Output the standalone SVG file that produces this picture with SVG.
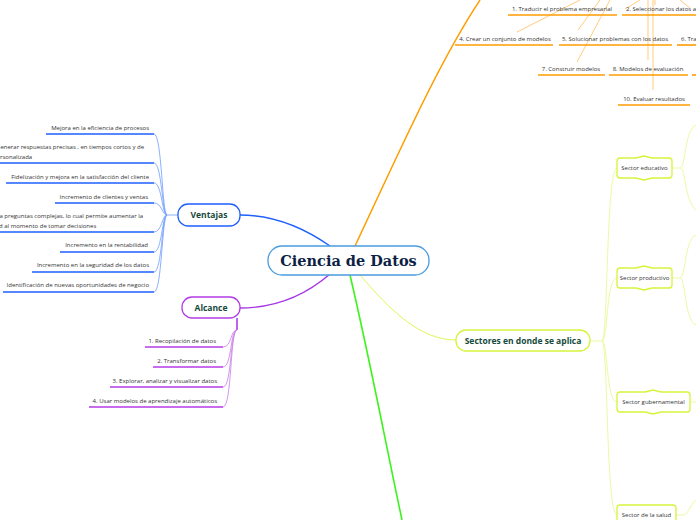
<svg xmlns="http://www.w3.org/2000/svg" width="696" height="520" viewBox="0 0 696 520">
<style>
text{font-family:"Open Sans","Liberation Sans",sans-serif;fill:#333;font-size:6px}
.r{text-anchor:end}.m{text-anchor:middle}
.b{font-weight:bold;fill:#154a3a;font-size:8.5px}
.ub{stroke:#1f5fff;stroke-width:1.6;fill:none}
.lb{stroke:#6d9cff;stroke-width:0.8;fill:none}
.up{stroke:#b33be6;stroke-width:1.6;fill:none}
.lp{stroke:#c87be8;stroke-width:0.8;fill:none}
.uo{stroke:#ff9c00;stroke-width:1.6;fill:none}
.lo{stroke:#ffb64a;stroke-width:0.7;fill:none}
.ly{stroke:#e6f88a;stroke-width:0.8;fill:none}
.ny{fill:#fff;stroke:#d4f53c;stroke-width:1.3}
</style>
<g id="connectors">
<path d="M330 246 C300 225 270 215 240 215" stroke="#1f5fff" stroke-width="1.4" fill="none"/>
<path d="M330 274 C300 300 270 308 240 308" stroke="#a637e6" stroke-width="1.4" fill="none"/>
<path d="M355 246 C400 150 440 60 480 0" stroke="#ff9c00" stroke-width="1.4" fill="none"/>
<path d="M350 275 C370 360 385 440 402 520" stroke="#3cf31c" stroke-width="1.6" fill="none"/>
<path d="M360 275 C390 310 420 340 456 340" stroke="#e2f654" stroke-width="1" fill="none"/>
<g class="lb">
<path d="M178 215 H167 C162 215 162 134 154 134"/><path d="M167 215 C162 215 162 163 154 163"/>
<path d="M167 215 C162 215 162 183 154 183"/><path d="M167 215 C162 215 162 203 154 203"/>
<path d="M167 215 C162 215 162 232 154 232"/><path d="M167 215 C162 215 162 252 154 252"/>
<path d="M167 215 C162 215 162 272 154 272"/><path d="M167 215 C162 215 162 292 154 292"/>
</g>
<path d="M237 318 V330" stroke="#b33be6" stroke-width="1.6"/>
<g class="lp">
<path d="M237 330 C230 330 232 347 223 347"/><path d="M237 330 C230 330 232 367 223 367"/>
<path d="M237 330 C230 330 232 387 223 387"/><path d="M237 330 C230 330 232 407 223 407"/>
</g>
<g class="lo">
<path d="M580 0 L517 32"/><path d="M600 0 L578 30"/><path d="M610 0 L577 62"/>
<path d="M648 0 V60"/><path d="M653 0 V90"/><path d="M640 0 L625 9"/><path d="M655 0 V5"/><path d="M680 0 L690 8"/>
</g>
<g class="ly">
<path d="M590 341 H602 C608 341 606 168 617 168"/><path d="M602 341 C608 341 606 278 617 278"/>
<path d="M602 341 C608 341 606 402 617 402"/><path d="M602 341 C608 341 606 515 617 515"/>
<path d="M672 168 H680 C686 168 684 130 696 125"/><path d="M680 168 C686 168 684 200 696 210"/>
<path d="M672 278 H680 C686 278 684 240 696 235"/><path d="M680 278 C686 278 684 320 696 325"/>
<path d="M690 402 H696"/><path d="M676 515 H683 C688 515 690 505 696 500"/>
</g>
</g>
<g id="center">
<rect x="268" y="246" width="161" height="29" rx="14" fill="#fff" stroke="#4a9be0" stroke-width="1.3"/>
<text x="348.5" y="266" class="m" style="font-family:'DejaVu Serif',serif;font-weight:bold;font-size:14.5px;fill:#0d1f45">Ciencia de Datos</text>
</g>
<g id="ventajas">
<rect x="178" y="204" width="62" height="22" rx="10" fill="#fff" stroke="#1f5fff" stroke-width="1.3"/>
<text x="209" y="218" class="m b">Ventajas</text>
<text x="149" y="130" class="r">Mejora en la eficiencia de procesos</text><path class="ub" d="M46 134 H154"/>
<text x="144" y="149" class="r">Generar respuestas precisas , en tiempos cortos y de</text><text x="-7" y="159">personalizada</text><path class="ub" d="M0 163 H154"/>
<text x="149" y="179" class="r">Fidelización y mejora en la satisfacción del cliente</text><path class="ub" d="M6 183 H154"/>
<text x="148" y="199" class="r">Incremento de clientes y ventas</text><path class="ub" d="M55 203 H154"/>
<text x="143" y="218" class="r">a preguntas complejas, lo cual permite aumentar la</text><text x="-1" y="228">d al momento de tomar decisiones</text><path class="ub" d="M0 232 H154"/>
<text x="148" y="247" class="r">Incremento en la rentabilidad</text><path class="ub" d="M60 252 H154"/>
<text x="149" y="267" class="r">Incremento en la seguridad de los datos</text><path class="ub" d="M32 272 H154"/>
<text x="149" y="287" class="r">Identificación de nuevas oportunidades de negocio</text><path class="ub" d="M3 292 H154"/>
</g>
<g id="alcance">
<rect x="182" y="297" width="58" height="21" rx="10" fill="#fff" stroke="#b33be6" stroke-width="1.3"/>
<text x="211" y="311" class="m b">Alcance</text>
<text x="216" y="343" class="r">1. Recopilación de datos</text><path class="up" d="M145 347 H223"/>
<text x="216" y="363" class="r">2. Transformar datos</text><path class="up" d="M153 367 H223"/>
<text x="217" y="383" class="r">3. Explorar, analizar y visualizar datos</text><path class="up" d="M110 387 H223"/>
<text x="217" y="403" class="r">4. Usar modelos de aprendizaje automáticos</text><path class="up" d="M89 407 H223"/>
</g>
<g id="metodologia">
<text x="562" y="11" class="m">1. Traducir el problema empresarial</text><path class="uo" d="M508 15 H617"/>
<text x="626" y="11">2. Seleccionar los datos a</text><path class="uo" d="M622 15 H696"/>
<text x="505" y="41" class="m">4. Crear un conjunto de modelos</text><path class="uo" d="M455 45 H553"/>
<text x="615" y="41" class="m">5. Solucionar problemas con los datos</text><path class="uo" d="M559 45 H672"/>
<text x="681" y="41">6. Tra</text><path class="uo" d="M677 45 H696"/>
<text x="571" y="71" class="m">7. Construir modelos</text><path class="uo" d="M538 75 H605"/>
<text x="648" y="71" class="m">8. Modelos de evaluación</text><path class="uo" d="M609 75 H688"/><path class="uo" d="M692 75 H696"/>
<text x="654" y="101" class="m">10. Evaluar resultados</text><path class="uo" d="M618 105 H690"/>
</g>
<g id="sectores">
<rect x="456" y="330" width="134" height="21" rx="10" class="ny"/>
<text x="523" y="344" class="m b">Sectores en donde se aplica</text>
</g>
<g id="sector-educativo"><path class="ny" d="M617 161 Q617 158 620 158 L636 158 L644 156 L652 158 L669 158 Q672 158 672 161 V175 Q672 178 669 178 L652 178 L644 180 L636 178 L620 178 Q617 178 617 175 Z"/><text x="644.5" y="170" class="m">Sector educativo</text></g>
<g id="sector-productivo"><path class="ny" d="M617 271 Q617 268 620 268 L636 268 L644 266 L652 268 L669 268 Q672 268 672 271 V285 Q672 288 669 288 L652 288 L644 290 L636 288 L620 288 Q617 288 617 285 Z"/><text x="644.5" y="280" class="m">Sector productivo</text></g>
<g id="sector-gubernamental"><path class="ny" d="M617 395 Q617 392 620 392 L645 392 L653 390 L661 392 L687 392 Q690 392 690 395 V409 Q690 412 687 412 L661 412 L653 414 L645 412 L620 412 Q617 412 617 409 Z"/><text x="653.5" y="404" class="m">Sector gubernamental</text></g>
<g id="sector-salud"><path class="ny" d="M617 508 Q617 505 620 505 L673 505 Q676 505 676 508 V525 H617 Z"/><text x="646.5" y="517" class="m">Sector de la salud</text></g>
</svg>
